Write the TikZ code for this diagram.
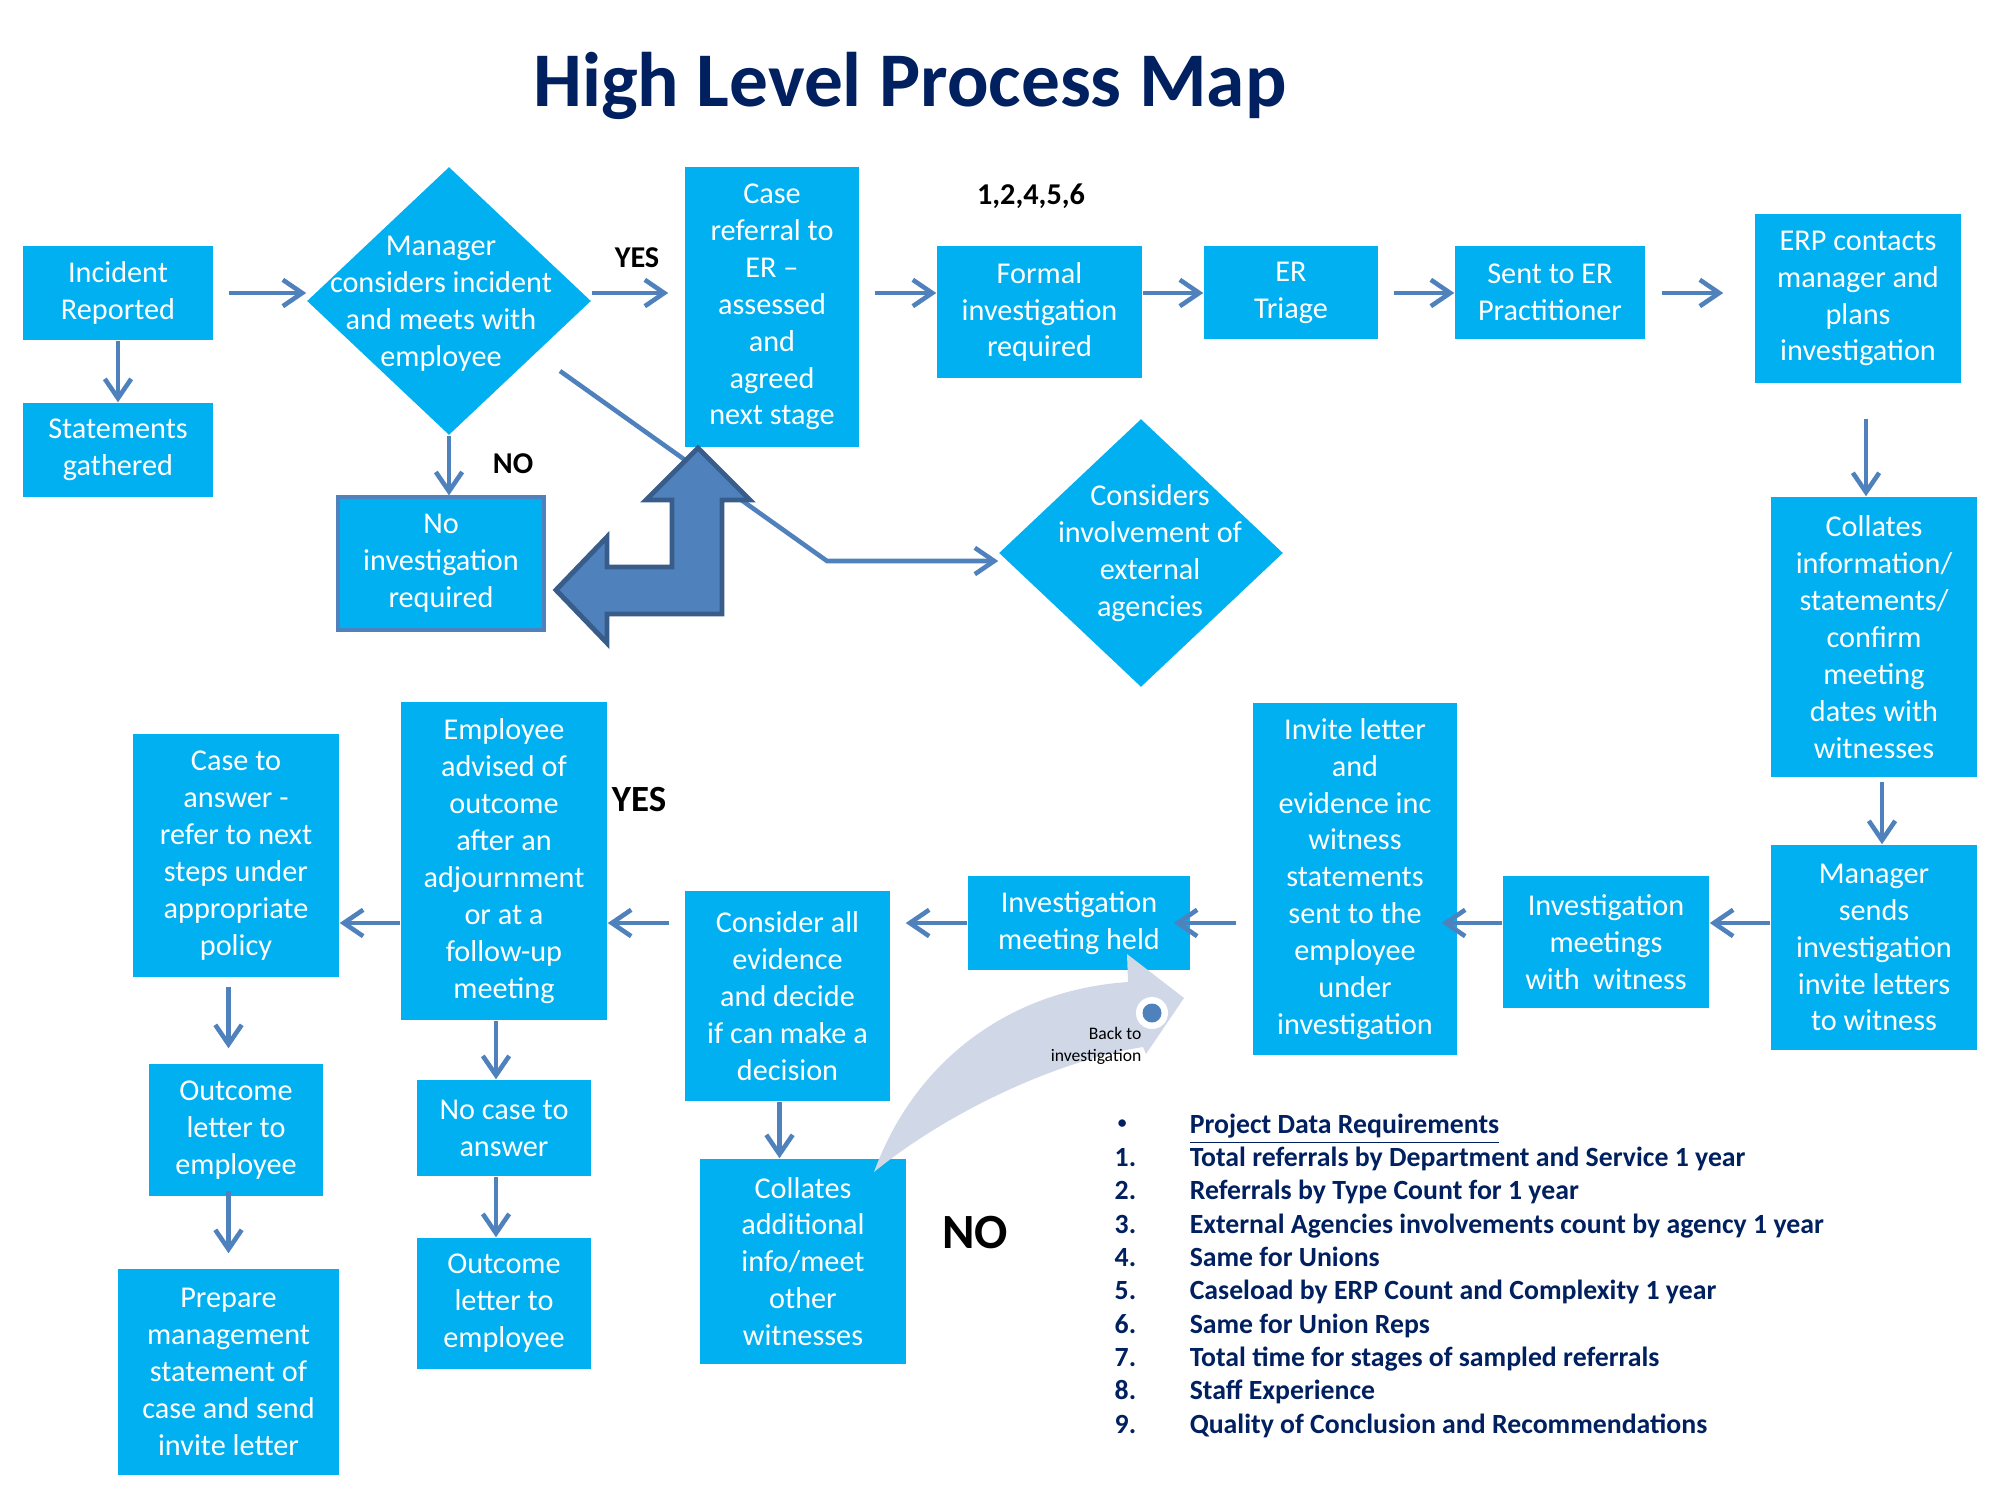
\documentclass[tikz,border=0pt]{standalone}
\usepackage{fontspec}
\setmainfont{Carlito}
\usetikzlibrary{arrows.meta,shapes.geometric}

\definecolor{boxblue}{HTML}{00B0F0}
\definecolor{linkblue}{HTML}{4F81BD}
\definecolor{darkblue}{HTML}{385D8A}
\definecolor{navy}{HTML}{002060}
\definecolor{paleblue}{HTML}{D0D8E8}

\begin{document}
\begin{tikzpicture}[x=0.01cm, y=-0.01cm,
		box/.style 2 args={fill=boxblue, text=white, align=center, inner sep=0pt,
			minimum width=#1, minimum height=#2, font=\fontsize{8.6}{10.5}\selectfont},
		dia/.style={diamond, fill=boxblue, inner sep=0pt, minimum width=2.84cm, minimum height=2.68cm},
		diatxt/.style={text=white, align=center, inner sep=0pt, font=\fontsize{8.6}{10.5}\selectfont},
		arr/.style={draw=linkblue, line width=1.3pt, -{Straight Barb[length=5.5pt,width=7.5pt]}},
		lbl/.style={anchor=base, inner sep=0pt, font=\bfseries\fontsize{8.6}{10}\selectfont},
		ttl/.style={anchor=base, inner sep=0pt, text=navy, font=\bfseries\fontsize{22}{26}\selectfont},
		reqline/.style={anchor=base west, inner sep=0pt, text=navy, font=\bfseries\fontsize{7.9}{9.5}\selectfont}]

			\path[use as bounding box, fill=white] (0,0) rectangle (2000,1500);

			% Title
			\node[ttl] (title) at (910,107) {High Level Process Map};
			\node[lbl] (refs) at (1031,205) {1,2,4,5,6};

			% Upper nodes
			\node[box={1.90cm}{0.94cm}] (inc) at (118,293) {Incident\\Reported};
			\node[box={1.90cm}{0.94cm}] (stm) at (118,450) {Statements\\gathered};
			\node[dia] (mgr) at (449,301) {};
			\node[diatxt] (mgrtxt) at (441,304) {Manager\\considers incident\\and meets with\\employee};
			\node[box={2.06cm}{1.33cm}, draw=linkblue, line width=0.9pt] (noinv) at (441,563.5) {No\\investigation\\required};
			\node[box={1.74cm}{2.80cm}] (case) at (772,307) {Case\\referral to\\ER –\\assessed\\and\\agreed\\next stage};
			\node[box={2.05cm}{1.32cm}] (formal) at (1039.5,312) {Formal\\investigation\\required};
			\node[box={1.74cm}{0.93cm}] (triage) at (1291,292.5) {ER\\Triage};
			\node[box={1.90cm}{0.93cm}] (sent) at (1550,292.5) {Sent to ER\\Practitioner};
			\node[box={2.06cm}{1.69cm}] (erp) at (1858,298.5) {ERP contacts\\manager and\\plans\\investigation};
			\node[dia] (ext) at (1141,553) {};
			\node[diatxt] (exttxt) at (1150,553) {Considers\\involvement of\\external\\agencies};
			\node[box={2.06cm}{2.80cm}] (coll) at (1874,637) {Collates\\information/\\statements/\\confirm\\meeting\\dates with\\witnesses};

			% Lower nodes
			\node[box={2.06cm}{2.05cm}] (msend) at (1874,947.5) {Manager\\sends\\investigation\\invite letters\\to witness};
			\node[box={2.06cm}{1.32cm}] (imeet) at (1606,942) {Investigation\\meetings\\with~ witness};
			\node[box={2.04cm}{3.52cm}] (invite) at (1355,879) {Invite letter\\and\\evidence inc\\witness\\statements\\sent to the\\employee\\under\\investigation};
			\node[box={2.22cm}{0.94cm}] (held) at (1079,923) {Investigation\\meeting held};
			\node[box={2.05cm}{2.10cm}] (cons) at (787.5,996) {Consider all\\evidence\\and decide\\if can make a\\decision};
			\node[box={2.06cm}{2.05cm}] (coll2) at (803,1261.5) {Collates\\additional\\info/meet\\other\\witnesses};
			\node[box={2.06cm}{3.18cm}] (empl) at (504,861) {Employee\\advised of\\outcome\\after an\\adjournment\\or at a\\follow-up\\meeting};
			\node[box={2.06cm}{2.43cm}] (cta) at (236,855.5) {Case to\\answer -\\refer to next\\steps under\\appropriate\\policy};
			\node[box={1.74cm}{1.32cm}] (out1) at (236,1130) {Outcome\\letter to\\employee};
			\node[box={2.21cm}{2.06cm}] (prep) at (228.5,1372) {Prepare\\management\\statement of\\case and send\\invite letter};
			\node[box={1.74cm}{0.96cm}] (noca) at (504,1128) {No case to\\answer};
			\node[box={1.74cm}{1.31cm}] (out2) at (504,1303.5) {Outcome\\letter to\\employee};

			% Labels
			\node[lbl] (yes1) at (637,268) {YES};
			\node[lbl] (no1) at (513,473) {NO};
			\node[lbl, font=\bfseries\fontsize{10.5}{12}\selectfont] (yes2) at (639,811) {YES};
			\node[lbl, font=\bfseries\fontsize{14}{16}\selectfont] (no2) at (975,1248) {NO};

			% Lines along the top
			\coordinate (toprow) at (0,293);
			\draw[arr, shorten <=0.15cm] (inc.east) -- (mgr.west |- toprow);
			\draw[arr, shorten >=0.16cm] (mgr.east |- toprow) -- (case.west |- toprow);
			\draw[arr, shorten <=0.15cm] (case.east |- toprow) -- (formal.west |- toprow);
			\draw[arr] (formal.east |- toprow) -- (triage.west |- toprow);
			\draw[arr, shorten <=0.15cm] (triage.east |- toprow) -- (sent.west |- toprow);
			\draw[arr, shorten <=0.16cm, shorten >=0.31cm] (sent.east |- toprow) -- (erp.west |- toprow);

			% Lines going down
			\draw[arr] (inc) -- (stm);
			\draw[arr] (mgr.south) -- (mgr.south |- noinv.north);
			\draw[arr, shorten <=0.35cm] ([xshift=0.08cm]erp.south) -- ([xshift=0.08cm]erp.south |- coll.north);
			\draw[arr, shorten <=0.04cm] ([xshift=0.08cm]coll.south) -- ([xshift=0.08cm]coll.south |- msend.north);

			% Lines along the bottom
			\coordinate (botrow) at (0,923);
			\draw[arr] (msend.west |- botrow) -- (imeet.east |- botrow);
			\draw[arr, shorten >=-0.16cm] (imeet.west |- botrow) -- (invite.east |- botrow);
			\draw[arr, shorten <=0.16cm, shorten >=-0.17cm] (invite.west |- botrow) -- (held.east |- botrow);
			\draw[arr, shorten >=0.15cm] (held.west |- botrow) -- (cons.east |- botrow);
			\draw[arr, shorten <=0.15cm] (cons.west |- botrow) -- (empl.east |- botrow);
			\draw[arr] (empl.west |- botrow) -- (cta.east |- botrow);

			\draw[arr, shorten <=0.09cm, shorten >=0.15cm] (cta.south -| prep) -- (out1.north -| prep);
			\draw[arr, shorten <=-0.06cm, shorten >=0.15cm] (out1.south -| prep) -- (prep.north);
			\draw[arr] ([xshift=-0.08cm]empl.south) -- ([xshift=-0.08cm]noca.north);
			\draw[arr] ([xshift=-0.08cm]noca.south) -- ([xshift=-0.08cm]out2.north);
			\draw[arr] ([xshift=-0.08cm]cons.south) -- ([xshift=-0.08cm]cons.south |- coll2.north);

			% Line to external agencies
			\coordinate (bend) at (827,561);
			\draw[arr] ([shift={(111,70)}]mgr.center) -- (bend) -- (ext.west |- bend);

			% Bent block arrow
			\draw[fill=linkblue, draw=darkblue, line width=1.4pt, line join=miter]
				(698,448) -- (750,500) -- (722,500) -- (722,614) -- (607,614) -- (607,643)
				-- (556,590) -- (607,537) -- (607,567) -- (672,567) -- (672,500) -- (646,500) -- cycle;

			% Back to investigation arrow
			\fill[paleblue] (874,1172) .. controls (915,1060) and (1010,990) .. (1128,982)
				-- (1127,954) -- (1184,998) -- (1146,1054) -- (1143,1047)
				.. controls (1060,1060) and (950,1110) .. (874,1172) -- cycle;
			\fill[white] (1152,1013) circle[radius=0.16cm];
			\fill[linkblue] (1152,1013) circle[radius=0.095cm];
			\node[anchor=east, align=right, inner sep=0pt, font=\fontsize{5}{6.3}\selectfont] (back) at (1142,1046) {Back to\\investigation};

			% Requirements list
			\node[reqline] (reqhead) at (1114,1133) {\makebox[0.75cm][l]{\hspace{0.9pt}\raisebox{1.2pt}{\fontsize{5}{5}\selectfont\textbullet}}\underline{Project Data Requirements}};
			\node[reqline] (req1) at (1114,1166.4) {\makebox[0.75cm][l]{1.}Total referrals by Department and Service 1 year};
			\node[reqline] (req2) at (1114,1199.7) {\makebox[0.75cm][l]{2.}Referrals by Type Count for 1 year};
			\node[reqline] (req3) at (1114,1233.1) {\makebox[0.75cm][l]{3.}External Agencies involvements count by agency 1 year};
			\node[reqline] (req4) at (1114,1266.4) {\makebox[0.75cm][l]{4.}Same for Unions};
			\node[reqline] (req5) at (1114,1299.8) {\makebox[0.75cm][l]{5.}Caseload by ERP Count and Complexity 1 year};
			\node[reqline] (req6) at (1114,1333.1) {\makebox[0.75cm][l]{6.}Same for Union Reps};
			\node[reqline] (req7) at (1114,1366.5) {\makebox[0.75cm][l]{7.}Total time for stages of sampled referrals};
			\node[reqline] (req8) at (1114,1399.8) {\makebox[0.75cm][l]{8.}Staff Experience};
			\node[reqline] (req9) at (1114,1433.2) {\makebox[0.75cm][l]{9.}Quality of Conclusion and Recommendations};

		\end{tikzpicture}
\end{document}
